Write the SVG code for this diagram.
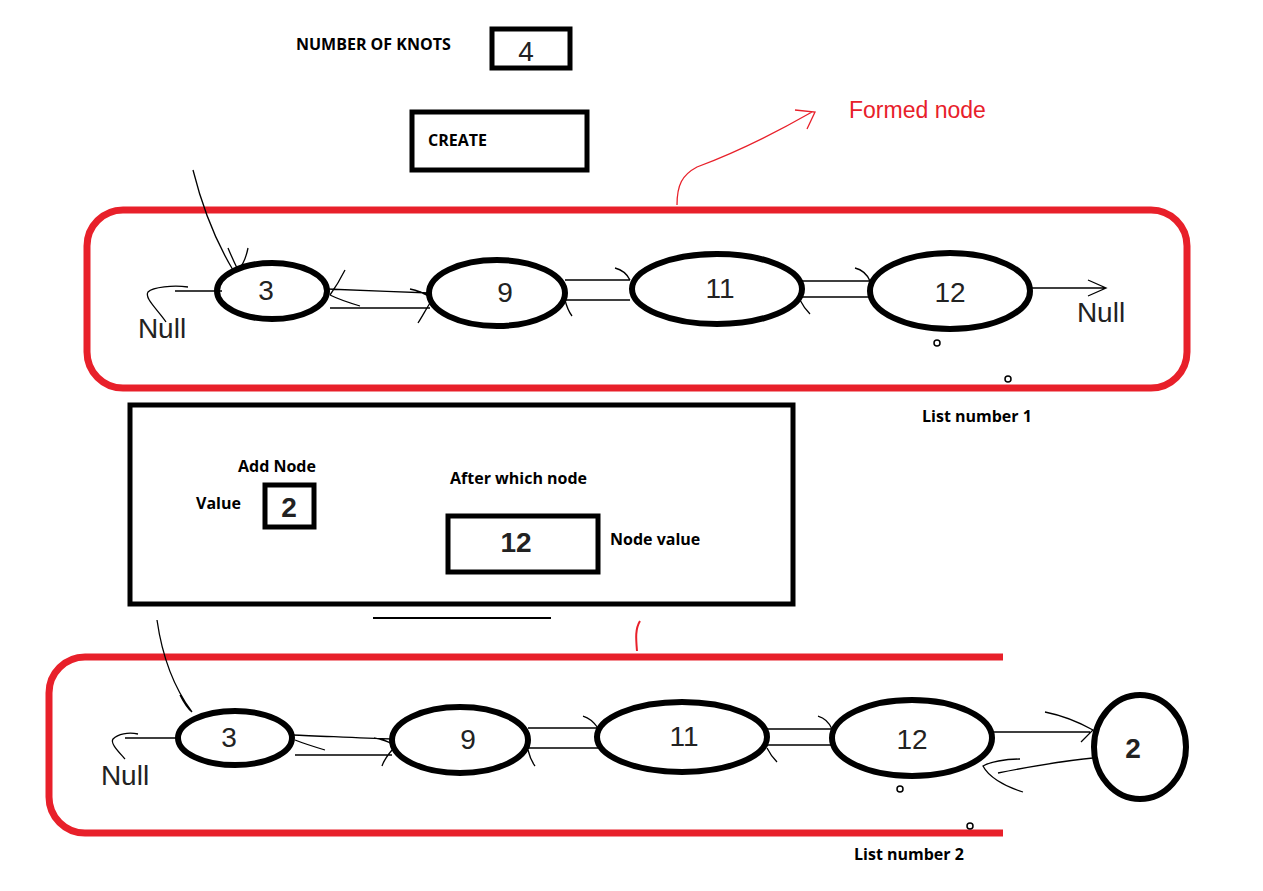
<svg xmlns="http://www.w3.org/2000/svg" width="1263" height="891" viewBox="0 0 1263 891">
<style>
.n{fill:none;stroke:#000;stroke-width:6}
.b{fill:none;stroke:#000;stroke-width:5}
.l{fill:none;stroke:#000;stroke-width:1.3}
.r{fill:none;stroke:#e8202a;stroke-width:7}
.v{font-family:"Liberation Sans",Arial,sans-serif;font-size:28px;fill:#222;text-anchor:middle}
.t{font-family:"Open Sans","DejaVu Sans",sans-serif;font-weight:bold;font-size:16px;fill:#000}
</style>
<rect width="1263" height="891" fill="#fff"/>
<g id="header">
<text class="t" x="296" y="50">NUMBER OF KNOTS</text>
<rect class="b" x="492" y="29" width="78" height="39"/>
<text class="v" x="526" y="61" font-size="27">4</text>
<rect class="b" x="412" y="112" width="175" height="58"/>
<text class="t" x="428" y="146">CREATE</text>
<text x="849" y="118" font-family="Liberation Sans,Arial,sans-serif" font-size="23" fill="#e8202a">Formed node</text>
</g>
<g id="list1">
<rect class="r" x="87" y="210" width="1100" height="178" rx="36"/>
<ellipse class="n" cx="272" cy="291" rx="55" ry="28"/><text class="v" x="266" y="300">3</text>
<ellipse class="n" cx="497" cy="293" rx="68" ry="33"/><text class="v" x="505" y="302">9</text>
<ellipse class="n" cx="717" cy="289" rx="85" ry="35"/><text class="v" x="720" y="298">11</text>
<ellipse class="n" cx="950" cy="291" rx="80" ry="38"/><text class="v" x="950" y="302">12</text>
<text class="v" x="162" y="338">Null</text>
<text class="v" x="1101" y="322">Null</text>
<text class="t" x="922" y="422">List number 1</text>
</g>
<g id="addbox">
<rect class="b" x="130" y="405" width="663" height="199"/>
<text class="t" x="238" y="472">Add Node</text>
<text class="t" x="196" y="509">Value</text>
<rect class="b" x="265" y="485" width="49" height="42"/>
<text class="v" x="289" y="517" font-weight="bold" font-size="26">2</text>
<text class="t" x="450" y="484">After which node</text>
<rect class="b" x="448" y="516" width="150" height="56"/>
<text class="v" x="516" y="552" font-weight="bold" font-size="28">12</text>
<text class="t" x="610" y="545">Node value</text>
<line x1="373" y1="618" x2="551" y2="618" stroke="#000" stroke-width="2"/>
</g>
<g id="list2">
<path class="r" d="M1003 657H85a36 36 0 0 0-36 36v104a36 36 0 0 0 36 36H1003"/>
<ellipse class="n" cx="235" cy="738" rx="57" ry="27"/><text class="v" x="229" y="747">3</text>
<ellipse class="n" cx="460" cy="740" rx="68" ry="33"/><text class="v" x="468" y="749">9</text>
<ellipse class="n" cx="682" cy="737" rx="85" ry="35"/><text class="v" x="684" y="746">11</text>
<ellipse class="n" cx="912" cy="738" rx="80" ry="38"/><text class="v" x="912" y="749">12</text>
<ellipse class="n" cx="1140" cy="747" rx="46" ry="52"/><text class="v" x="1133" y="758" font-weight="bold">2</text>
<text class="v" x="125" y="785">Null</text>
<text class="t" x="854" y="860">List number 2</text>
</g>
<g id="connectors">
<path class="l" d="M222 291H175M188 287c-15-2-35 0-40 5c-4 6 10 18 18 30"/>
<path class="l" d="M193 170c10 40 25 75 40 100M228 248c5 12 8 18 10 22M248 248c-2 10-6 18-10 22"/>
<path class="l" d="M327 289c30 1 70 3 103 4M330 308h100M330 295c10 5 20 8 30 11M345 270c-5 10-10 18-15 25M430 297c-8-5-15-7-20-8M430 303c-5 8-8 14-12 20"/>
<path class="l" d="M565 280h65M565 300h65M615 268c8 2 12 6 15 12M565 300c2 8 4 12 7 16"/>
<path class="l" d="M800 281h70M800 297h70M855 268c8 2 12 6 15 13M800 300c3 6 6 10 10 14"/>
<path class="l" d="M1030 288h75M1088 280l18 8l-18 8"/>
<path class="r" style="stroke-width:1.3" d="M677 205c0-20 5-30 20-38c40-15 80-35 115-55M795 110l20 2l-8 17"/>
<path class="r" style="stroke-width:2" d="M640 621c-5 8-4 18-3 30"/>
<circle cx="937" cy="343" r="3" fill="none" stroke="#000" stroke-width="1.5"/>
<circle cx="1008" cy="379" r="3" fill="none" stroke="#000" stroke-width="1.5"/>
<path class="l" d="M178 738H125M138 734c-10-2-20 0-25 5c-3 4 5 12 12 20"/>
<path class="l" d="M157 620c5 35 15 65 35 92M180 695c4 8 8 14 12 17"/>
<path class="l" d="M292 735c30 1 65 3 100 4M295 755h97M295 740c10 4 20 7 30 10M392 744c-6-4-12-5-18-6M392 750c-5 6-8 10-10 16"/>
<path class="l" d="M528 728h70M528 748h70M583 716c7 2 11 6 15 12M528 750c2 8 4 12 7 16"/>
<path class="l" d="M767 729h65M767 745h65M818 716c7 2 11 6 14 13M767 748c3 6 6 10 10 14"/>
<path class="l" d="M992 732h98M1045 712c15 3 30 8 48 18l-12 12"/>
<path class="l" d="M1093 758c-30 3-60 8-95 15M1020 759c-15 0-30 3-37 7c5 10 20 20 40 26"/>
<circle cx="900" cy="789" r="3" fill="none" stroke="#000" stroke-width="1.5"/>
<circle cx="970" cy="826" r="3" fill="none" stroke="#000" stroke-width="1.5"/>
</g>
</svg>
